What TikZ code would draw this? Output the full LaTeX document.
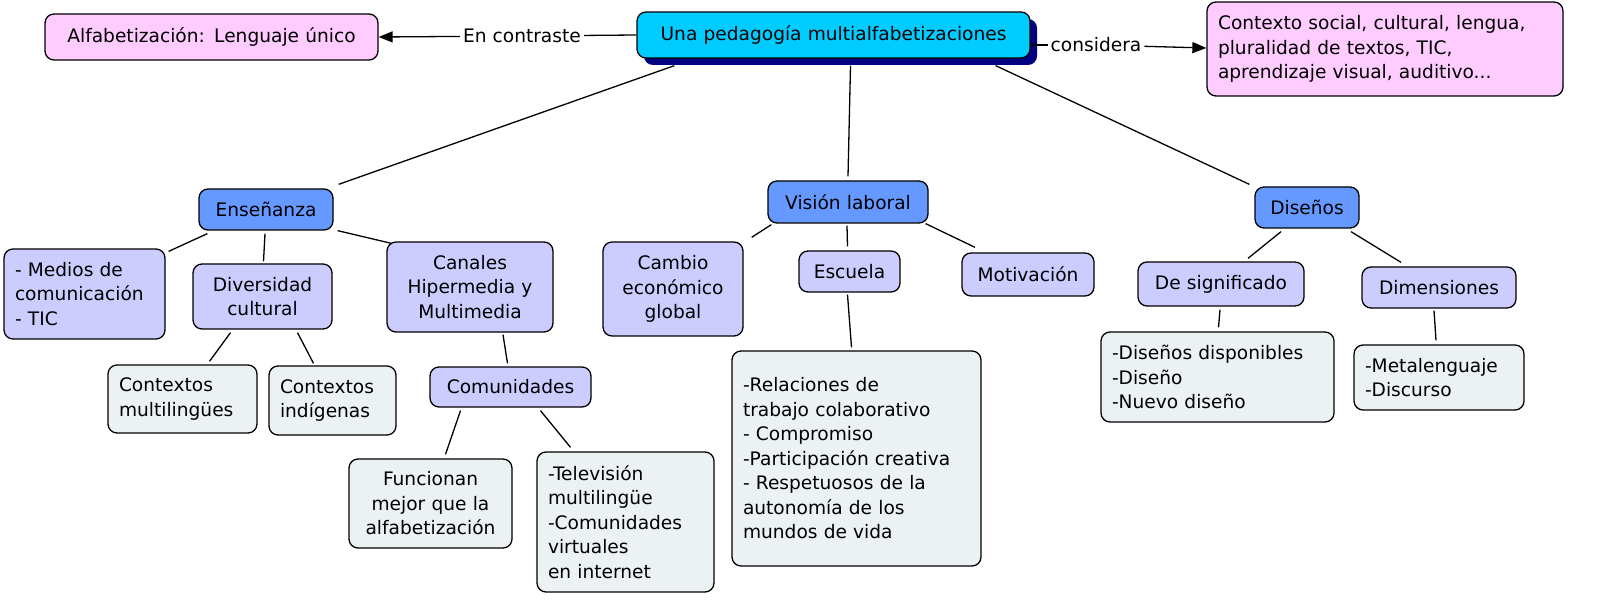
\documentclass[tikz,border=0pt]{standalone}
\usepackage{fontspec}
\setmainfont{DejaVu Sans}
\usetikzlibrary{arrows.meta,calc}
\definecolor{cyanm}{RGB}{0,204,255}
\definecolor{pinkb}{RGB}{255,204,255}
\definecolor{blueb}{RGB}{102,153,255}
\definecolor{purb}{RGB}{204,204,255}
\definecolor{grayb}{RGB}{236,242,244}
\definecolor{navy}{RGB}{0,0,128}
\begin{document}
\begin{tikzpicture}[x=1pt,y=-1pt,
  box/.style={draw=black,line width=1.3pt,rounded corners=9pt,inner sep=0pt,align=center,font=\fontsize{18.6}{24.5}\selectfont},
  lbl/.style={fill=white,inner sep=3pt,font=\fontsize{18.6}{22}\selectfont},
  ln/.style={line width=1.3pt},
  ar/.style={line width=1.3pt,-{Triangle[length=14pt,width=11pt]}}]
\useasboundingbox (0,0) rectangle (1600,609);
\newcommand{\bx}[7]{\node[box,fill=#6,minimum width={#3-#2},minimum height={#5-#4},text width={#3-#2-22},#7] (#1) at ({(#2+#3)/2},{(#4+#5)/2})}
\fill[navy,rounded corners=9pt] (644,19) rectangle (1037,65);
\bx{main}{637}{1030}{12}{58}{cyanm}{}{Una pedagogía multialfabetizaciones};
\bx{alf}{45}{378}{14}{60}{pinkb}{}{Alfabetización: Lenguaje único};
\bx{ctx}{1207}{1563}{2}{96}{pinkb}{align=left}{Contexto social, cultural, lengua,\\pluralidad de textos, TIC,\\aprendizaje visual, auditivo...};
\bx{ens}{199}{333}{189}{230}{blueb}{}{Enseñanza};
\bx{vis}{768}{928}{181}{223}{blueb}{}{Visión laboral};
\bx{dis}{1255}{1359}{187}{228}{blueb}{}{Diseños};
\bx{med}{4}{165}{249}{339}{purb}{align=left}{- Medios de\\comunicación\\- TIC};
\bx{div}{193}{332}{264}{329}{purb}{}{Diversidad\\cultural};
\bx{can}{387}{553}{242}{332}{purb}{}{Canales\\Hipermedia y\\Multimedia};
\bx{mul}{108}{257}{365}{433}{grayb}{align=left}{Contextos\\multilingües};
\bx{ind}{269}{396}{366}{435}{grayb}{align=left}{Contextos\\indígenas};
\bx{com}{430}{591}{367}{407}{purb}{}{Comunidades};
\bx{fun}{349}{512}{459}{548}{grayb}{}{Funcionan\\mejor que la\\alfabetización};
\bx{tel}{537}{714}{452}{592}{grayb}{align=left}{-Televisión\\multilingüe\\-Comunidades\\virtuales\\en internet};
\bx{cam}{603}{743}{242}{336}{purb}{}{Cambio\\económico\\global};
\bx{esc}{799}{900}{251}{292}{purb}{}{Escuela};
\bx{mot}{962}{1094}{253}{296}{purb}{}{Motivación};
\bx{rel}{732}{981}{351}{566}{grayb}{align=left}{-Relaciones de\\trabajo colaborativo\\- Compromiso\\-Participación creativa\\- Respetuosos de la\\autonomía de los\\mundos de vida\\[22pt]};
\bx{sig}{1138}{1304}{262}{306}{purb}{}{De significado};
\bx{dim}{1362}{1516}{267}{308}{purb}{}{Dimensiones};
\bx{dd}{1101}{1334}{332}{422}{grayb}{align=left}{-Diseños disponibles\\-Diseño\\-Nuevo diseño};
\bx{met}{1354}{1524}{345}{410}{grayb}{align=left}{-Metalenguaje\\-Discurso};
\node[lbl] (enc) at (522,36) {En contraste};
\node[lbl] (con) at (1096,45) {considera};
\draw[ln] (main.west) -- (enc);
\draw[ar] (enc) -- (alf.east);
\draw[ln] (main.east |- con) -- (con);
\draw[ar] (con) -- (ctx.west |- 0,48);
\draw[ln] ($(main.south west)+(38,7)$) -- ($(ens.north east)+(5,-4)$);
\draw[ln] ($(main.south)+(17,7)$) -- ($(vis.north)+(0,-4)$);
\draw[ln] ($(main.south east)+(-35,7)$) -- ($(dis.north west)+(-5,-2)$);
\draw[ln] ($(ens.south west)+(9,3)$) -- ($(med.north east)+(3,3)$);
\draw[ln] ($(ens.south)+(-1,3)$) -- ($(div.north)+(1,-2)$);
\draw[ln] ($(ens.south east)+(4,0)$) -- ($(can.north west)+(5,2)$);
\draw[ln] ($(div.south)+(-32,3)$) -- ($(mul.north)+(27,-3)$);
\draw[ln] ($(div.south)+(35,3)$) -- ($(ind.north)+(-19,-2)$);
\draw[ln] ($(can.south)+(33,2)$) -- ($(com.north)+(-3,-3)$);
\draw[ln] ($(com.south)+(-50,3)$) -- ($(fun.north)+(15,-4)$);
\draw[ln] ($(com.south)+(30,3)$) -- ($(tel.north)+(-55,-4)$);
\draw[ln] ($(vis.south west)+(4,1)$) -- ($(cam.north east)+(8,-4)$);
\draw[ln] ($(vis.south)+(-1,2)$) -- ($(esc.north)+(-2,-4)$);
\draw[ln] ($(vis.south east)+(-3,0)$) -- ($(mot.north)+(-53,-5)$);
\draw[ln] ($(esc.south)+(-2,2)$) -- ($(rel.north)+(-5,-3)$);
\draw[ln] ($(dis.south)+(-26,3)$) -- ($(sig.north)+(27,-3)$);
\draw[ln] ($(dis.south)+(44,3)$) -- ($(dim.north)+(-38,-4)$);
\draw[ln] ($(sig.south)+(-1,3)$) -- ($(dd.north)+(1,-4)$);
\draw[ln] ($(dim.south)+(-5,2)$) -- ($(met.north)+(-3,-4)$);
\end{tikzpicture}
\end{document}
